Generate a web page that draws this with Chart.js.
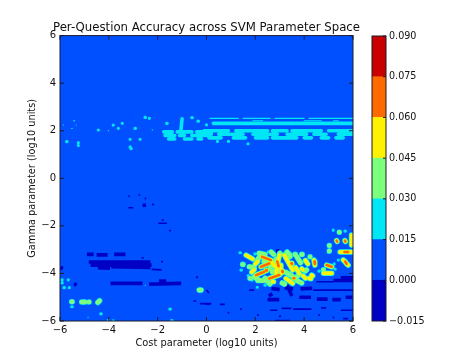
<!DOCTYPE html>
<html><head><meta charset="utf-8">
<style>html,body{margin:0;padding:0;background:#fff}#wrap{position:relative;width:474px;height:357px;overflow:hidden}canvas{position:absolute;top:0}</style>
<script src="https://cdn.jsdelivr.net/npm/chart.js@4"></script></head><body>
<div id="wrap"><div style="position:absolute;left:0;top:0;width:474px;height:357px"><canvas id="main"></canvas></div>
<div style="position:absolute;left:360px;top:0;width:114px;height:357px"><canvas id="bar"></canvas></div></div>
<script>
const levelEdges=[-0.015,0,0.015,0.03,0.045,0.06,0.075,0.09];
const levelColors=['#0000c4','#0050ff','#00e6f5','#7cff7c','#fff200','#ff6a00','#c80000'];
const axisTicks=[-6,-4,-2,0,2,4,6];

// runs in (cost, gamma) units: each is x,y,x,y,...
const darkThick=[
[-4.9,-3.2,-4.62,-3.2],[-4.5,-3.22,-4.05,-3.22],[-3.78,-3.2,-3.32,-3.2],
[-4.82,-3.52,-2.3,-3.52],[-4.75,-3.65,-2.25,-3.65],[-4.45,-3.76,-3.95,-3.78],[-3.9,-3.72,-2.3,-3.75],
[-3.93,-4.42,-2.62,-4.42],[-2.35,-4.45,-1.04,-4.42],[-1.95,-4.32,-1.65,-4.32],
[-2.62,-1.13,-2.48,-1.13],[-5.98,-3.75,-5.88,-3.8],[-5.42,-4.42,-5.32,-4.5],
[3.25,-4.4,3.5,-4.95],[2.5,-5.1,2.98,-5.1],[3.8,-5.0,4.28,-5.0],[4.52,-5.08,4.96,-5.08],[5.15,-5.1,5.5,-5.1],[5.7,-5.0,5.98,-5.0],
[5.2,-4.3,6,-4.3],[5.5,-4.18,6,-4.18],[3.85,-4.65,4.33,-4.62],[2.66,-4.63,3.0,-4.68],[3.2,-4.6,3.55,-4.65],[2.85,-3.06,3.0,-3.06],[2.55,-4.95,2.7,-4.85]
];
const darkThin=[
[-3.2,-1.24,-3.0,-1.24],[-1.97,-1.89,-1.62,-1.89],[-2.25,-3.83,-1.84,-3.85],[-0.13,-5.27,0.14,-5.3],[-0.27,-5.27,0.2,-5.27],
[4.37,-4.7,6,-4.7],[3.07,-5.47,3.48,-5.47],[3.55,-5.5,4.3,-5.5],[2.8,-5.98,3.42,-5.98],[4.5,-4.35,5.2,-4.35],
[5.5,-5.55,6,-5.55],[4.7,-5.45,4.9,-5.45],[1.75,-4.7,1.95,-4.7],[2.6,-5.55,2.9,-5.55],[5.6,-5.9,5.8,-5.9],[-0.54,-5.16,-0.42,-5.16],[0,-4.7,0.1,-4.82],[0.55,-5.3,0.75,-5.3]
];
const darkDots=[-3.17,-0.75,-2.75,-0.7,-2.5,-0.85,-2.2,-1.1,-1.8,-1.76,-1.5,-2.2,-2.62,-3.35,-1.83,-3.5,-0.4,-4.16,0.9,-5.65,1.4,-5.5,2.1,-5.75,3.0,-5.8,4.6,-5.75,5.2,-5.85];
const cyanBands=[
[0.28,2.31,1.4,2.31],[1.45,2.31,3.6,2.31],[3.65,2.31,6,2.31],
[-0.1,2.0,0.9,2.0],[1.2,2.0,2.5,2.0],[2.7,2.0,3.3,2.0],[3.5,2.0,4.7,2.0],[5.0,2.0,6,2.0],
[-0.2,1.85,0.2,1.85],[0.5,1.85,1.5,1.85],[1.9,1.85,2.9,1.85],[3.3,1.85,4.1,1.85],[4.4,1.85,4.9,1.85],[5.4,1.85,6,1.85],
[0.1,1.7,0.6,1.7],[1.1,1.7,1.6,1.7],[2.0,1.7,2.5,1.7],[2.7,1.7,3.7,1.7],[4.0,1.7,4.3,1.7],[4.7,1.7,5.0,1.7],[5.3,1.7,5.6,1.7],
[-1.75,1.95,-1.4,1.95],[-1.2,1.95,-0.6,1.95],[-0.4,1.95,0.2,1.95],[-1.7,1.8,-1.3,1.8],[-1.1,1.8,-0.9,1.8],[-0.6,1.8,0.1,1.8],[-1.55,1.65,-1.3,1.65],[-0.9,1.65,-0.6,1.65],[-0.35,1.65,-0.2,1.65],
[-1.0,2.5,-1.05,2.0]
];
const cyanThin=[[0.15,2.52,1.3,2.52],[1.5,2.52,2.6,2.52],[2.8,2.52,4.0,2.52],[4.2,2.52,6,2.52],[1.9,2.42,2.3,2.42],[4.0,2.42,4.7,2.42],[5.2,2.42,5.4,2.42]];
const cyanDots=[-5.73,1.54,-5.25,1.5,-5.25,1.38,-4.43,2.03,-3.61,2.1,-3.45,2.31,-3.13,1.64,-2.72,1.64,-3.13,1.32,-3.1,1.25,-2.52,2.56,-2.34,2.52,-1.63,2.31,-0.6,2.55,-0.35,2.4,-0.0,2.25,0.45,1.55,0.9,1.55,1.7,1.45,-2.93,2.1,-3.82,2.24,
-5.93,-4.27,-5.66,-4.27,-5.84,-4.6,-5.62,-4.6,-4.33,-5.7,-1.5,-5.5,-1.43,-5.98,-4.02,-5.97,-3.82,-5.99,-5.52,-5.4,-5.93,-4.4,
1.37,-3.13,1.41,-3.86,1.85,-4.28,2.08,-4.58,2.39,-4.49,2.53,-3.09,1.98,-3.18,3.21,-3.13,4.21,-3.3,3.96,-3.5,5.19,-2.18,5.67,-2.22,4.99,-3.11,5.4,-3.44,1.71,-4.09,5.23,-3.6,5.27,-3.82,5.12,-4.0,4.6,-3.9];
const tinyCyan=[-5.86,2.24,-5.43,2.42,-5.52,2.1,-5.34,2.24,-4.02,2.0,-2.22,2.03,-4.85,-5.85,-2.5,-4.5];
const greenRidges=[
[-5.52,-5.19,-5.5,-5.19],[-5.11,-5.2,-4.98,-5.2],[-4.81,-5.2,-4.78,-5.2],[-4.45,-5.22,-4.38,-5.15],[-0.3,-4.7,-0.22,-4.7],
[1.48,-3.62,1.5,-3.62],[1.75,-3.72,1.96,-3.76],[5.44,-2.27,5.46,-2.27],[5.03,-2.83,5.05,-2.83],[5.03,-3.06,5.05,-3.06],[3.62,-3.2,3.64,-3.2],[3.9,-3.2,3.92,-3.2],[4.24,-3.3,4.26,-3.3],[4.79,-3.85,4.81,-3.85],
[2.05,-3.5,2.2,-3.25],[2.6,-3.8,2.85,-3.4],[2.4,-4.2,2.6,-4.45],[3.1,-4.4,3.2,-4.45],[3.7,-4.3,3.9,-4.4],[1.78,-4.2,1.8,-4.2],[3.4,-3.2,3.42,-3.3],[3.0,-3.15,3.04,-3.2],
[2.15,-3.15,2.4,-3.2],[2.65,-3.1,2.75,-3.2],[3.3,-3.1,3.35,-3.15],[2.35,-3.5,2.55,-3.5],[2.7,-3.95,2.85,-3.85],[3.25,-3.95,3.5,-4.1],[2.1,-4.3,2.4,-4.3],[1.95,-4.15,2.1,-4.25],[3.7,-3.3,3.85,-3.55],[3.6,-4.2,3.75,-4.1],[4.05,-3.9,4.1,-3.85]
];
const yellowRidges=[
[1.62,-3.23,1.89,-3.39],[2.85,-4.0,2.98,-3.23],[3.19,-3.23,3.53,-3.86],[3.05,-3.65,3.05,-4.0],[3.25,-4.21,3.53,-4.42],[2.71,-4.35,2.75,-4.35],
[2.0,-3.6,2.1,-3.5],[5.47,-3.1,5.95,-3.1],[5.94,-2.39,5.94,-2.8],[5.6,-3.43,5.8,-3.65],[4.79,-3.99,5.13,-3.99],[3.9,-3.8,3.95,-3.85],
[4.4,-3.44,4.44,-3.65],[4.05,-3.45,4.15,-3.6],[3.65,-3.75,3.8,-4.0],[4.31,-4.07,4.35,-4.1],[3.95,-4.1,4.05,-4.2],[1.85,-3.95,1.95,-3.85],[4.2,-4.2,4.28,-4.22],[2.7,-3.55,2.8,-3.7]
];
const orangeRidges=[
[2.27,-3.3,2.64,-3.44],[2.23,-3.72,2.57,-3.58],[2.03,-4.07,2.37,-3.93],[2.44,-3.86,2.47,-3.88],[2.57,-4.21,2.98,-4.07],[3.56,-4.2,3.6,-4.2],[3.48,-3.57,3.5,-3.6],
[5.33,-2.62,5.35,-2.66],[5.67,-2.62,5.69,-2.66],[4.92,-3.65,5.13,-3.72],[4.42,-3.5,4.44,-3.6],[5.65,-3.1,5.8,-3.1],[3.1,-3.9,3.12,-3.95],[2.9,-3.5,2.95,-3.7],[5.68,-3.5,5.74,-3.6]
];

function path(runs){const pts=[];for(const r of runs){for(let i=0;i<r.length;i+=2)pts.push({x:r[i],y:r[i+1]});pts.push({x:r[0],y:null});}return pts;}
function dots(f){const r=[];for(let i=0;i<f.length;i+=2)r.push([f[i],f[i+1],f[i]+0.02,f[i+1]]);return r;}
function line(runs,color,w,cap){return{data:path(runs),borderColor:color,borderWidth:w,borderCapStyle:cap||'round',borderJoinStyle:'round',showLine:true,pointRadius:0,spanGaps:false,tension:0,clip:0};}

const hotAll=greenRidges.concat(yellowRidges,orangeRidges);
const hotWarm=yellowRidges.concat(orangeRidges);
const datasets=[
 line(darkThick,levelColors[0],3.6,'butt'),
 line(darkThin,levelColors[0],1.6,'butt'),
 line(dots(darkDots),levelColors[0],1.8),
 line(cyanBands,levelColors[2],3.6),
 line(cyanThin,levelColors[2],1.1),
 line(dots(cyanDots),levelColors[2],3.2),
 line(dots(tinyCyan),levelColors[2],1.3),
 line(hotAll,levelColors[2],5.6),
 line(hotAll,levelColors[3],4.5),
 line(hotWarm,levelColors[4],3.4),
 line(orangeRidges,levelColors[5],2.6)
].reverse(); // Chart.js paints the first dataset last
const txt='#111';
const tickFmt=v=>String(v).replace('-','\u2212');
function innerTicks(ctx,x,y,dx,dy){ctx.moveTo(x,y);ctx.lineTo(x+dx,y+dy);}
const frame={id:'frame',
 afterLayout(c){const t=c.titleBlock;t.left-=7;t.right+=7;},
 beforeDatasetsDraw(c){const a=c.chartArea,g=c.ctx;g.save();g.fillStyle=levelColors[1];g.fillRect(a.left,a.top,a.width,a.height);g.restore();},
 afterDraw(c){const a=c.chartArea,g=c.ctx;g.save();g.strokeStyle='#1a1a2a';g.lineWidth=1;g.strokeRect(a.left,a.top,a.width,a.height);g.beginPath();
  for(const t of axisTicks){const x=c.scales.x.getPixelForValue(t),y=c.scales.y.getPixelForValue(t);
   innerTicks(g,x,a.top,0,4);innerTicks(g,x,a.bottom,0,-4);innerTicks(g,a.left,y,4,0);innerTicks(g,a.right,y,-4,0);}
  g.stroke();g.restore();}};
Chart.defaults.font.family='"DejaVu Sans"';
Chart.defaults.color=txt;
new Chart(document.getElementById('main'),{type:'scatter',data:{datasets},plugins:[frame],options:{
 responsive:true,maintainAspectRatio:false,animation:false,events:[],
 layout:{padding:{left:0,right:121,top:0,bottom:0}},
 plugins:{legend:{display:false},tooltip:{enabled:false},
  title:{display:true,fullSize:false,text:'Per-Question Accuracy across SVM Parameter Space',color:txt,font:{size:13,weight:'normal'},padding:{top:20,bottom:0}}},
 scales:{
  x:{type:'linear',min:-6,max:6,afterBuildTicks(s){s.ticks=axisTicks.map(v=>({value:v}));},afterFit(s){s.height=36;},
   grid:{display:false,drawTicks:false},border:{display:false},ticks:{padding:3,maxRotation:0,font:{size:10},callback:tickFmt},
   title:{display:true,text:'Cost parameter (log10 units)',color:txt,font:{size:9.8},padding:{top:0,bottom:8}}},
  y:{type:'linear',min:-6,max:6,afterBuildTicks(s){s.ticks=axisTicks.map(v=>({value:v}));},afterFit(s){s.width=60;},
   grid:{display:false,drawTicks:false},border:{display:false},ticks:{padding:4,font:{size:10},callback:tickFmt},
   title:{display:true,text:'Gamma parameter (log10 units)',color:txt,font:{size:9.8},padding:{top:27,bottom:0}}}
 }}});

const barSets=levelColors.map((col,i)=>({data:[[levelEdges[i],levelEdges[i+1]]],backgroundColor:col,borderWidth:0,grouped:false,barPercentage:1,categoryPercentage:1}));
const barFrame={id:'barFrame',afterDraw(c){const a=c.chartArea,g=c.ctx;g.save();g.strokeStyle='#1a1a2a';g.lineWidth=1;g.strokeRect(a.left,a.top,a.width,a.height);g.beginPath();
 for(const t of levelEdges){const y=c.scales.y.getPixelForValue(t);innerTicks(g,a.right,y,-3,0);}g.stroke();g.restore();}};
new Chart(document.getElementById('bar'),{type:'bar',data:{labels:['levels'],datasets:barSets},plugins:[barFrame],options:{
 responsive:true,maintainAspectRatio:false,animation:false,events:[],
 layout:{padding:{left:12,right:0,top:36,bottom:36}},
 plugins:{legend:{display:false},tooltip:{enabled:false}},
 scales:{x:{display:false},
  y:{position:'right',min:levelEdges[0],max:levelEdges[7],afterBuildTicks(s){s.ticks=levelEdges.map(v=>({value:v}));},afterFit(s){s.width=88;},
   grid:{display:false,drawTicks:false},border:{display:false},
   ticks:{padding:3,font:{size:9.6},callback:v=>v.toFixed(3).replace('-','\u2212')}}}}});
</script></body></html>
